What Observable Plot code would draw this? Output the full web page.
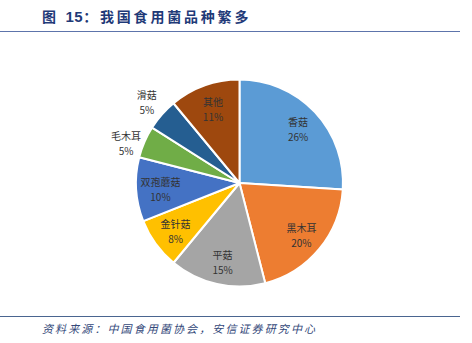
<!DOCTYPE html>
<html>
<head>
<meta charset="utf-8">
<script src="https://cdn.jsdelivr.net/npm/d3@7"></script>
<script src="https://cdn.jsdelivr.net/npm/@observablehq/plot@0.6"></script>
<style>
  html, body { margin: 0; padding: 0; background: #fff; width: 472px; height: 343px; overflow: hidden; }
  #title { position: absolute; left: 0; top: 0; width: 460px; height: 31px; border-bottom: 1.5px solid #5d74ab; box-sizing: content-box; }
  #title span.t { position: absolute; left: 42px; top: 8px; font-family: "Liberation Sans", "Noto Sans CJK SC", sans-serif; font-weight: bold; font-size: 14px; letter-spacing: 2.8px; color: #1f3a78; white-space: nowrap; line-height: 18px; }
  #title span.n { letter-spacing: 0.5px; font-size: 15px; }
  #chart { position: absolute; left: 0; top: 32px; }
  #footer { position: absolute; left: 0; top: 316px; width: 460px; border-top: 1.2px solid #4a6590; }
  #footer span { position: absolute; left: 42px; top: 3px; font-family: "Noto Sans CJK SC", sans-serif; font-style: italic; font-size: 11px; letter-spacing: 2.1px; color: #34497a; white-space: nowrap; line-height: 16px; }
</style>
</head>
<body>
<div id="title"><span class="t">图 <span class="n">15</span>：我国食用菌品种繁多</span></div>
<div id="chart"></div>
<div id="footer"><span>资料来源：中国食用菌协会，安信证券研究中心</span></div>
<script>
const categories = ["香菇", "黑木耳", "平菇", "金针菇", "双孢蘑菇", "毛木耳", "滑菇", "其他"];
const values = [26, 20, 15, 8, 10, 5, 5, 11];
const colors = ["#5B9BD5", "#ED7D31", "#A5A5A5", "#FFC000", "#4472C4", "#70AD47", "#255E91", "#9E480E"];

const arcs = d3.pie().sort(null).value(d => d)(values);
const slices = arcs.map((a, i) => ({
  name: categories[i],
  value: values[i],
  color: colors[i],
  start: a.startAngle,
  end: a.endAngle,
  mid: (a.startAngle + a.endAngle) / 2,
  outside: values[i] <= 5
}));

const labelR = d => d.outside ? 1.2 : 0.77;

const pieMark = Plot.dot(slices, {
  x: () => 0,
  y: () => 0,
  render: (index, scales, values_, dims, context) => {
    const cx = scales.x(0), cy = scales.y(0);
    const r = scales.x(1) - scales.x(0);
    const arc = d3.arc().innerRadius(0).outerRadius(r);
    const g = d3.create("svg:g").attr("transform", `translate(${cx},${cy})`);
    for (const i of index) {
      const d = slices[i];
      g.append("path")
        .attr("d", arc({startAngle: d.start, endAngle: d.end}))
        .attr("fill", d.color)
        .attr("stroke", "#fff")
        .attr("stroke-width", 2)
        .attr("stroke-linejoin", "round");
    }
    return g.node();
  }
});

const chart = Plot.plot({
  width: 472,
  height: 284,
  margin: 0,
  x: {domain: [-1, 1], range: [136, 343], axis: null},
  y: {domain: [-1, 1], range: [254.5, 47.5], axis: null},
  marks: [
    pieMark,
    Plot.text(slices, {
      x: d => Math.sin(d.mid) * labelR(d),
      y: d => Math.cos(d.mid) * labelR(d) - (d.name === "毛木耳" ? 0.08 : 0),
      text: d => d.name + "\n" + d.value + "%",
      lineHeight: 1.5,
      fontSize: 10,
      fill: "#333",
      fontFamily: "Noto Sans CJK SC, sans-serif",
      letterSpacing: 1.5
    })
  ]
});
chart.style.fontFamily = "Noto Sans CJK SC, sans-serif";
document.getElementById("chart").appendChild(chart);
</script>
</body>
</html>
